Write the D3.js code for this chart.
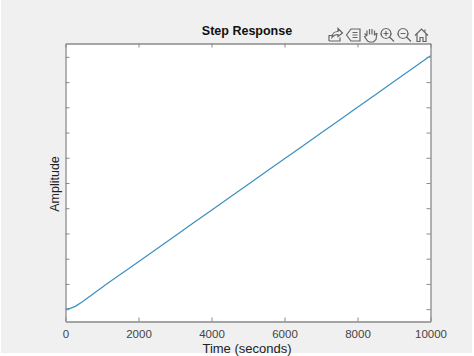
<!DOCTYPE html>
<html>
<head>
<meta charset="utf-8">
<script src="https://cdn.jsdelivr.net/npm/d3@7"></script>
<style>
  html, body { margin: 0; padding: 0; background: #fff; }
  svg { display: block; }
  text { font-family: "Liberation Sans", Arial, sans-serif; }
</style>
</head>
<body>
<div id="chart"></div>
<script>
const timeValues = [0, 100, 200, 300, 400, 500, 700, 1000, 1500, 2000, 3000, 4000, 5000, 6000, 7000, 8000, 9000, 10000];
const amplitudeValues = [0, 0.02, 0.07, 0.14, 0.23, 0.33, 0.54, 0.86, 1.37, 1.88, 2.9, 3.92, 4.94, 5.96, 6.98, 8.0, 9.02, 10.04];
const xTicks = [0, 2000, 4000, 6000, 8000, 10000];
const yTicks = [0, 1, 2, 3, 4, 5, 6, 7, 8, 9, 10];

const width = 474, height = 356;
const margin = {top: 43.5, right: 43.5, bottom: 34.5, left: 65.5};

const svg = d3.select("#chart").append("svg")
  .attr("width", width)
  .attr("height", height);

// figure background, thin white edge like the screenshot
svg.append("rect")
  .attr("x", 1)
  .attr("y", 0)
  .attr("width", 471)
  .attr("height", 353)
  .attr("fill", "#f0f0f0");

const x = d3.scaleLinear().domain([0, 10000]).range([margin.left, width - margin.right]);
const y = d3.scaleLinear().domain([-0.49, 10.53]).range([height - margin.bottom, margin.top]);

svg.append("rect")
  .attr("x", margin.left)
  .attr("y", margin.top)
  .attr("width", width - margin.left - margin.right)
  .attr("height", height - margin.top - margin.bottom)
  .attr("fill", "#fff");

const line = d3.line()
  .x((d, i) => x(timeValues[i]))
  .y(d => y(d))
  .curve(d3.curveMonotoneX);

svg.append("path")
  .datum(amplitudeValues)
  .attr("fill", "none")
  .attr("stroke", "#3d8fc0")
  .attr("stroke-width", 1.2)
  .attr("d", line);

const axisColor = "#8a8a8a";
const tickLen = 4;

// bottom + top
const xAxisG = svg.append("g")
  .attr("transform", `translate(0,${height - margin.bottom})`)
  .call(d3.axisBottom(x).tickValues(xTicks).tickFormat(d3.format("d")).tickSizeInner(-tickLen).tickSizeOuter(0).tickPadding(8));
xAxisG.selectAll("text").attr("font-size", 11.5).attr("font-family", null).attr("fill", "#444");
svg.append("g")
  .attr("transform", `translate(0,${margin.top})`)
  .call(d3.axisTop(x).tickValues(xTicks).tickFormat("").tickSizeInner(-tickLen).tickSizeOuter(0));

// left + right, no labels on this one
svg.append("g")
  .attr("transform", `translate(${margin.left},0)`)
  .call(d3.axisLeft(y).tickValues(yTicks).tickFormat("").tickSizeInner(-tickLen).tickSizeOuter(0));
svg.append("g")
  .attr("transform", `translate(${width - margin.right},0)`)
  .call(d3.axisRight(y).tickValues(yTicks).tickFormat("").tickSizeInner(-tickLen).tickSizeOuter(0));

svg.selectAll(".domain").attr("stroke", axisColor).attr("stroke-width", 1.3);
svg.selectAll(".tick line").attr("stroke", axisColor);

svg.append("text")
  .attr("x", 247)
  .attr("y", 35)
  .attr("text-anchor", "middle")
  .attr("font-size", 12.5)
  .attr("font-weight", "bold")
  .attr("fill", "#111")
  .text("Step Response");

svg.append("text")
  .attr("x", 247)
  .attr("y", 353)
  .attr("text-anchor", "middle")
  .attr("font-size", 13)
  .attr("fill", "#222")
  .text("Time (seconds)");

svg.append("text")
  .attr("transform", "translate(58.5,184) rotate(-90)")
  .attr("text-anchor", "middle")
  .attr("font-size", 12.5)
  .attr("fill", "#222")
  .text("Amplitude");

// toolbar icons
const toolbarIcons = [
  {dx: 328, d: "M1 13.5V8h4M1 13.5h11V10M4 10c0-4 3-6 6-6V1l4.5 4.5L10 9V7c-3 0-4.500 1-6 3z"},
  {dx: 346, d: "M5 1.500h9v12H5L0.500 7.500zM6.500 5h5M6.500 7.500h5M6.500 10h5"},
  {dx: 363, d: "M4 8L1.500 6M4 8V3M6.500 7V1.500M9 7V1.500M11.500 8V3M11.500 8l2-2.500M4 8l-2.500 1 3 4.500 2 1h4l2.500-2.500 1-6.500"},
  {dx: 380, d: "M6 1a5 5 0 1 0 .01 0zM9.500 9.500L14 14M6 3.500v5M3.500 6h5"},
  {dx: 397, d: "M6 1a5 5 0 1 0 .01 0zM9.500 9.500L14 14M3.500 6h5"},
  {dx: 415, d: "M0 8L6.500 1.500 13 8M2 6.500V14h3v-4h3v4h3V6.500M10 2v2"}
];
svg.append("g").selectAll("path").data(toolbarIcons).join("path")
  .attr("transform", d => `translate(${d.dx},27.5)`)
  .attr("d", d => d.d)
  .attr("fill", "none")
  .attr("stroke", "#666")
  .attr("stroke-width", 1.2);
</script>
</body>
</html>
